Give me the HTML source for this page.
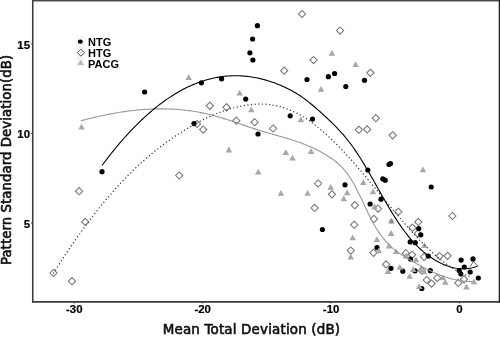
<!DOCTYPE html>
<html><head><meta charset="utf-8"><style>
html,body{margin:0;padding:0;background:#fff;width:500px;height:337px;overflow:hidden}
svg{display:block}
.tk{font-family:"Liberation Sans",Arial,sans-serif;font-weight:bold;font-size:11.4px;fill:#000;stroke:#000;stroke-width:0.2px}
.ti{font-family:"DejaVu Sans",sans-serif;fill:#111;stroke:#111;stroke-width:0.6px}
.lg{font-family:"Liberation Sans",Arial,sans-serif;font-weight:bold;font-size:11px;fill:#000}
</style></head><body>
<svg width="500" height="337" viewBox="0 0 500 337">
<rect width="500" height="337" fill="#fff"/>
<path d="M470.2,266.6L473.4,261.5L478.2,266.4" fill="#fff" stroke="#666" stroke-width="1"/>
<g fill="#fff" stroke="#747474" stroke-width="1.05"><path d="M53.5,269.4L57.1,273.0L53.5,276.6L49.9,273.0Z"/><path d="M72.0,277.6L75.6,281.2L72.0,284.8L68.4,281.2Z"/><path d="M85.3,218.3L88.9,221.9L85.3,225.5L81.7,221.9Z"/><path d="M79.1,187.6L82.7,191.2L79.1,194.8L75.5,191.2Z"/><path d="M179.2,171.9L182.8,175.5L179.2,179.1L175.6,175.5Z"/><path d="M209.8,102.2L213.4,105.8L209.8,109.4L206.2,105.8Z"/><path d="M226.5,103.7L230.1,107.3L226.5,110.9L222.9,107.3Z"/><path d="M197.0,120.4L200.6,124.0L197.0,127.6L193.4,124.0Z"/><path d="M203.2,126.0L206.8,129.6L203.2,133.2L199.6,129.6Z"/><path d="M302.0,10.4L305.6,14.0L302.0,17.6L298.4,14.0Z"/><path d="M313.6,56.5L317.2,60.1L313.6,63.7L310.0,60.1Z"/><path d="M284.2,67.1L287.8,70.7L284.2,74.3L280.6,70.7Z"/><path d="M236.3,117.1L239.9,120.7L236.3,124.3L232.7,120.7Z"/><path d="M254.6,118.6L258.2,122.2L254.6,125.8L251.0,122.2Z"/><path d="M273.1,124.9L276.7,128.5L273.1,132.1L269.5,128.5Z"/><path d="M340.1,27.0L343.7,30.6L340.1,34.2L336.5,30.6Z"/><path d="M370.4,69.2L374.0,72.8L370.4,76.4L366.8,72.8Z"/><path d="M375.8,114.6L379.4,118.2L375.8,121.8L372.2,118.2Z"/><path d="M358.9,126.2L362.5,129.8L358.9,133.4L355.3,129.8Z"/><path d="M367.2,125.8L370.8,129.4L367.2,133.0L363.6,129.4Z"/><path d="M392.7,131.7L396.3,135.3L392.7,138.9L389.1,135.3Z"/><path d="M318.1,179.9L321.7,183.5L318.1,187.1L314.5,183.5Z"/><path d="M331.9,190.7L335.5,194.3L331.9,197.9L328.3,194.3Z"/><path d="M354.8,201.6L358.4,205.2L354.8,208.8L351.2,205.2Z"/><path d="M314.7,204.3L318.3,207.9L314.7,211.5L311.1,207.9Z"/><path d="M354.2,221.1L357.8,224.7L354.2,228.3L350.6,224.7Z"/><path d="M350.8,247.0L354.4,250.6L350.8,254.2L347.2,250.6Z"/><path d="M378.0,205.0L381.6,208.6L378.0,212.2L374.4,208.6Z"/><path d="M398.3,208.2L401.9,211.8L398.3,215.4L394.7,211.8Z"/><path d="M374.0,215.3L377.6,218.9L374.0,222.5L370.4,218.9Z"/><path d="M452.4,212.4L456.0,216.0L452.4,219.6L448.8,216.0Z"/><path d="M418.3,218.3L421.9,221.9L418.3,225.5L414.7,221.9Z"/><path d="M412.5,224.1L416.1,227.7L412.5,231.3L408.9,227.7Z"/><path d="M417.8,230.0L421.4,233.6L417.8,237.2L414.2,233.6Z"/><path d="M373.5,249.2L377.1,252.8L373.5,256.4L369.9,252.8Z"/><path d="M405.8,249.6L409.4,253.2L405.8,256.8L402.2,253.2Z"/><path d="M412.1,251.2L415.7,254.8L412.1,258.4L408.5,254.8Z"/><path d="M424.0,253.3L427.6,256.9L424.0,260.5L420.4,256.9Z"/><path d="M439.6,252.5L443.2,256.1L439.6,259.7L436.0,256.1Z"/><path d="M447.6,252.2L451.2,255.8L447.6,259.4L444.0,255.8Z"/><path d="M386.1,260.8L389.7,264.4L386.1,268.0L382.5,264.4Z"/><path d="M421.8,267.1L425.4,270.7L421.8,274.3L418.2,270.7Z"/><path d="M426.7,276.4L430.3,280.0L426.7,283.6L423.1,280.0Z"/><path d="M431.6,280.0L435.2,283.6L431.6,287.2L428.0,283.6Z"/><path d="M437.2,274.4L440.8,278.0L437.2,281.6L433.6,278.0Z"/><path d="M464.0,275.7L467.6,279.3L464.0,282.9L460.4,279.3Z"/><path d="M458.3,279.3L461.9,282.9L458.3,286.5L454.7,282.9Z"/></g>
<g fill="#000"><circle cx="102.0" cy="171.7" r="2.6"/><circle cx="144.6" cy="92.0" r="2.6"/><circle cx="201.4" cy="82.8" r="2.6"/><circle cx="221.6" cy="78.8" r="2.6"/><circle cx="194.0" cy="123.6" r="2.6"/><circle cx="257.4" cy="25.7" r="2.6"/><circle cx="252.6" cy="39.0" r="2.6"/><circle cx="249.9" cy="52.8" r="2.6"/><circle cx="252.9" cy="60.0" r="2.6"/><circle cx="307.0" cy="79.5" r="2.6"/><circle cx="328.4" cy="76.7" r="2.6"/><circle cx="334.6" cy="73.5" r="2.6"/><circle cx="345.8" cy="86.5" r="2.6"/><circle cx="364.5" cy="80.3" r="2.6"/><circle cx="245.7" cy="99.1" r="2.6"/><circle cx="290.2" cy="115.8" r="2.6"/><circle cx="312.5" cy="119.1" r="2.6"/><circle cx="258.0" cy="134.0" r="2.6"/><circle cx="322.4" cy="229.5" r="2.6"/><circle cx="389.0" cy="164.5" r="2.6"/><circle cx="390.5" cy="163.5" r="2.6"/><circle cx="367.8" cy="170.0" r="2.6"/><circle cx="382.8" cy="178.8" r="2.6"/><circle cx="385.2" cy="180.2" r="2.6"/><circle cx="345.0" cy="184.8" r="2.6"/><circle cx="381.0" cy="199.2" r="2.6"/><circle cx="370.1" cy="204.0" r="2.6"/><circle cx="431.2" cy="187.0" r="2.6"/><circle cx="418.7" cy="228.5" r="2.6"/><circle cx="420.8" cy="234.8" r="2.6"/><circle cx="410.2" cy="241.9" r="2.6"/><circle cx="415.3" cy="242.7" r="2.6"/><circle cx="428.3" cy="256.1" r="2.6"/><circle cx="377.0" cy="247.6" r="2.6"/><circle cx="415.0" cy="270.8" r="2.6"/><circle cx="410.5" cy="259.0" r="2.6"/><circle cx="391.0" cy="268.3" r="2.6"/><circle cx="402.8" cy="271.2" r="2.6"/><circle cx="430.3" cy="270.7" r="2.6"/><circle cx="421.8" cy="288.5" r="2.6"/><circle cx="461.1" cy="260.1" r="2.6"/><circle cx="473.0" cy="258.9" r="2.6"/><circle cx="464.3" cy="267.0" r="2.6"/><circle cx="459.2" cy="270.6" r="2.6"/><circle cx="460.8" cy="273.8" r="2.6"/><circle cx="470.2" cy="272.0" r="2.6"/><circle cx="478.3" cy="278.0" r="2.6"/></g>
<g fill="#a8a8a8" stroke="none"><path d="M81.5,123.7L84.8,129.5L78.2,129.5Z"/><path d="M188.7,74.1L192.0,79.9L185.4,79.9Z"/><path d="M228.9,146.6L232.2,152.4L225.6,152.4Z"/><path d="M239.7,89.7L243.0,95.5L236.4,95.5Z"/><path d="M251.3,106.4L254.6,112.2L248.0,112.2Z"/><path d="M300.9,116.5L304.2,122.3L297.6,122.3Z"/><path d="M321.0,86.0L324.3,91.8L317.7,91.8Z"/><path d="M331.9,50.0L335.2,55.8L328.6,55.8Z"/><path d="M355.6,61.2L358.9,67.0L352.3,67.0Z"/><path d="M285.8,149.2L289.1,155.0L282.5,155.0Z"/><path d="M292.5,154.7L295.8,160.5L289.2,160.5Z"/><path d="M311.0,148.1L314.3,153.9L307.7,153.9Z"/><path d="M258.2,168.8L261.5,174.6L254.9,174.6Z"/><path d="M280.9,189.9L284.2,195.7L277.6,195.7Z"/><path d="M307.6,189.9L310.9,195.7L304.3,195.7Z"/><path d="M330.7,184.0L334.0,189.8L327.4,189.8Z"/><path d="M347.2,189.4L350.5,195.2L343.9,195.2Z"/><path d="M343.8,195.4L347.1,201.2L340.5,201.2Z"/><path d="M363.3,179.3L366.6,185.1L360.0,185.1Z"/><path d="M373.0,188.4L376.3,194.2L369.7,194.2Z"/><path d="M374.5,203.4L377.8,209.2L371.2,209.2Z"/><path d="M423.0,166.5L426.3,172.3L419.7,172.3Z"/><path d="M391.3,217.7L394.6,223.5L388.0,223.5Z"/><path d="M391.1,230.1L394.4,235.9L387.8,235.9Z"/><path d="M376.9,236.2L380.2,242.0L373.6,242.0Z"/><path d="M389.0,242.7L392.3,248.5L385.7,248.5Z"/><path d="M352.7,234.5L356.0,240.3L349.4,240.3Z"/><path d="M350.7,253.7L354.0,259.5L347.4,259.5Z"/><path d="M378.8,247.4L382.1,253.2L375.5,253.2Z"/><path d="M396.1,248.2L399.4,254.0L392.8,254.0Z"/><path d="M406.1,252.6L409.4,258.4L402.8,258.4Z"/><path d="M416.0,256.5L419.3,262.3L412.7,262.3Z"/><path d="M399.8,263.9L403.1,269.7L396.5,269.7Z"/><path d="M387.9,268.3L391.2,274.1L384.6,274.1Z"/><path d="M409.7,273.0L413.0,278.8L406.4,278.8Z"/><path d="M413.3,266.2L416.6,272.0L410.0,272.0Z"/><path d="M420.5,266.3L423.8,272.1L417.2,272.1Z"/><path d="M424.0,268.5L427.3,274.3L420.7,274.3Z"/><path d="M424.5,242.3L427.8,248.1L421.2,248.1Z"/><path d="M419.2,283.2L422.5,289.0L415.9,289.0Z"/><path d="M442.8,274.5L446.1,280.3L439.5,280.3Z"/><path d="M445.3,278.9L448.6,284.7L442.0,284.7Z"/><path d="M466.5,283.6L469.8,289.4L463.2,289.4Z"/><path d="M473.9,278.5L477.2,284.3L470.6,284.3Z"/></g>
<circle cx="391.4" cy="221.4" r="2.1" fill="#8c8c8c"/>
<path d="M81.00,120.75 L82.50,120.35 L84.00,119.96 L85.49,119.57 L86.99,119.19 L88.49,118.81 L89.99,118.44 L91.49,118.07 L92.98,117.71 L94.48,117.36 L95.98,117.01 L97.48,116.67 L98.98,116.33 L100.48,116.00 L101.97,115.68 L103.47,115.36 L104.97,115.05 L106.47,114.74 L107.97,114.44 L109.46,114.15 L110.96,113.87 L112.46,113.59 L113.96,113.32 L115.46,113.06 L116.95,112.80 L118.45,112.55 L119.95,112.31 L121.45,112.07 L122.95,111.84 L124.44,111.63 L125.94,111.41 L127.44,111.21 L128.94,111.01 L130.44,110.82 L131.93,110.64 L133.43,110.47 L134.93,110.31 L136.43,110.15 L137.93,110.00 L139.43,109.87 L140.92,109.74 L142.42,109.61 L143.92,109.50 L145.42,109.40 L146.92,109.30 L148.41,109.22 L149.91,109.14 L151.41,109.07 L152.91,109.01 L154.41,108.97 L155.90,108.93 L157.40,108.90 L158.90,108.88 L160.40,108.87 L161.90,108.87 L163.39,108.88 L164.89,108.90 L166.39,108.92 L167.89,108.96 L169.39,109.02 L170.89,109.08 L172.38,109.15 L173.88,109.23 L175.38,109.32 L176.88,109.42 L178.38,109.54 L179.87,109.66 L181.37,109.80 L182.87,109.95 L184.37,110.10 L185.87,110.27 L187.36,110.45 L188.86,110.65 L190.36,110.85 L191.86,111.07 L193.36,111.29 L194.85,111.53 L196.35,111.79 L197.85,112.05 L199.35,112.32 L200.85,112.61 L202.34,112.91 L203.84,113.22 L205.34,113.55 L206.84,113.89 L208.34,114.24 L209.84,114.60 L211.33,114.97 L212.83,115.36 L214.33,115.76 L215.83,116.18 L217.33,116.60 L218.82,117.03 L220.32,117.48 L221.82,117.93 L223.32,118.39 L224.82,118.86 L226.31,119.34 L227.81,119.82 L229.31,120.31 L230.81,120.80 L232.31,121.30 L233.80,121.80 L235.30,122.31 L236.80,122.82 L238.30,123.33 L239.80,123.84 L241.30,124.35 L242.79,124.86 L244.29,125.38 L245.79,125.89 L247.29,126.39 L248.79,126.90 L250.28,127.40 L251.78,127.90 L253.28,128.39 L254.78,128.88 L256.28,129.37 L257.77,129.84 L259.27,130.31 L260.77,130.77 L262.27,131.23 L263.77,131.67 L265.26,132.11 L266.76,132.55 L268.26,132.98 L269.76,133.41 L271.26,133.83 L272.75,134.26 L274.25,134.68 L275.75,135.10 L277.25,135.52 L278.75,135.95 L280.25,136.37 L281.74,136.80 L283.24,137.24 L284.74,137.68 L286.24,138.12 L287.74,138.57 L289.23,139.03 L290.73,139.49 L292.23,139.97 L293.73,140.45 L295.23,140.95 L296.72,141.46 L298.22,141.98 L299.72,142.51 L301.22,143.06 L302.72,143.62 L304.21,144.19 L305.71,144.79 L307.21,145.40 L308.71,146.03 L310.21,146.68 L311.70,147.35 L313.20,148.03 L314.70,148.74 L316.20,149.48 L317.70,150.23 L319.20,151.01 L320.69,151.82 L322.19,152.65 L323.69,153.51 L325.19,154.39 L326.69,155.30 L328.18,156.24 L329.68,157.22 L331.18,158.22 L332.68,159.27 L334.18,160.37 L335.67,161.53 L337.17,162.77 L338.67,164.08 L340.17,165.48 L341.67,166.98 L343.16,168.58 L344.66,170.30 L346.16,172.15 L347.66,174.13 L349.16,176.25 L350.66,178.53 L352.15,180.96 L353.65,183.56 L355.15,186.31 L356.65,189.18 L358.15,192.16 L359.64,195.23 L361.14,198.36 L362.64,201.54 L364.14,204.73 L365.64,207.92 L367.13,211.08 L368.63,214.18 L370.13,217.20 L371.63,220.12 L373.13,222.90 L374.62,225.53 L376.12,228.04 L377.62,230.41 L379.12,232.65 L380.62,234.77 L382.11,236.78 L383.61,238.68 L385.11,240.47 L386.61,242.16 L388.11,243.76 L389.61,245.27 L391.10,246.70 L392.60,248.06 L394.10,249.34 L395.60,250.56 L397.10,251.71 L398.59,252.81 L400.09,253.86 L401.59,254.87 L403.09,255.84 L404.59,256.78 L406.08,257.69 L407.58,258.57 L409.08,259.45 L410.58,260.31 L412.08,261.16 L413.57,262.01 L415.07,262.84 L416.57,263.67 L418.07,264.49 L419.57,265.30 L421.07,266.10 L422.56,266.89 L424.06,267.67 L425.56,268.43 L427.06,269.18 L428.56,269.91 L430.05,270.63 L431.55,271.33 L433.05,272.02 L434.55,272.68 L436.05,273.34 L437.54,273.97 L439.04,274.58 L440.54,275.17 L442.04,275.74 L443.54,276.29 L445.03,276.81 L446.53,277.32 L448.03,277.80 L449.53,278.25 L451.03,278.68 L452.52,279.08 L454.02,279.46 L455.52,279.80 L457.02,280.12 L458.52,280.41 L460.02,280.67 L461.51,280.90 L463.01,281.10 L464.51,281.27 L466.01,281.40 L467.51,281.50 L469.00,281.57 L470.50,281.60 L472.00,281.59" fill="none" stroke="#999" stroke-width="1.1"/>
<path d="M53.60,273.02 L55.10,270.63 L56.60,268.25 L58.10,265.90 L59.60,263.56 L61.10,261.23 L62.60,258.93 L64.09,256.64 L65.59,254.36 L67.09,252.11 L68.59,249.87 L70.09,247.65 L71.59,245.44 L73.09,243.25 L74.59,241.08 L76.09,238.93 L77.59,236.80 L79.09,234.68 L80.59,232.58 L82.09,230.50 L83.59,228.43 L85.08,226.38 L86.58,224.35 L88.08,222.34 L89.58,220.35 L91.08,218.37 L92.58,216.41 L94.08,214.47 L95.58,212.55 L97.08,210.64 L98.58,208.76 L100.08,206.89 L101.58,205.04 L103.08,203.20 L104.58,201.39 L106.07,199.59 L107.57,197.81 L109.07,196.06 L110.57,194.31 L112.07,192.59 L113.57,190.89 L115.07,189.20 L116.57,187.53 L118.07,185.88 L119.57,184.25 L121.07,182.64 L122.57,181.05 L124.07,179.48 L125.57,177.92 L127.06,176.38 L128.56,174.87 L130.06,173.37 L131.56,171.89 L133.06,170.43 L134.56,168.98 L136.06,167.56 L137.56,166.15 L139.06,164.76 L140.56,163.39 L142.06,162.04 L143.56,160.70 L145.06,159.38 L146.56,158.08 L148.05,156.79 L149.55,155.53 L151.05,154.27 L152.55,153.04 L154.05,151.81 L155.55,150.61 L157.05,149.42 L158.55,148.25 L160.05,147.09 L161.55,145.94 L163.05,144.81 L164.55,143.70 L166.05,142.60 L167.55,141.52 L169.04,140.44 L170.54,139.39 L172.04,138.34 L173.54,137.31 L175.04,136.30 L176.54,135.30 L178.04,134.31 L179.54,133.33 L181.04,132.36 L182.54,131.41 L184.04,130.47 L185.54,129.55 L187.04,128.64 L188.54,127.74 L190.03,126.85 L191.53,125.98 L193.03,125.12 L194.53,124.28 L196.03,123.45 L197.53,122.64 L199.03,121.84 L200.53,121.05 L202.03,120.28 L203.53,119.53 L205.03,118.79 L206.53,118.06 L208.03,117.36 L209.53,116.67 L211.02,115.99 L212.52,115.33 L214.02,114.69 L215.52,114.06 L217.02,113.45 L218.52,112.86 L220.02,112.29 L221.52,111.73 L223.02,111.19 L224.52,110.67 L226.02,110.16 L227.52,109.68 L229.02,109.21 L230.52,108.76 L232.01,108.33 L233.51,107.92 L235.01,107.52 L236.51,107.15 L238.01,106.80 L239.51,106.46 L241.01,106.15 L242.51,105.85 L244.01,105.58 L245.51,105.32 L247.01,105.09 L248.51,104.88 L250.01,104.70 L251.51,104.53 L253.00,104.40 L254.50,104.28 L256.00,104.19 L257.50,104.13 L259.00,104.09 L260.50,104.08 L262.00,104.10 L263.50,104.14 L265.00,104.21 L266.50,104.32 L268.00,104.45 L269.50,104.61 L271.00,104.80 L272.49,105.02 L273.99,105.28 L275.49,105.57 L276.99,105.88 L278.49,106.24 L279.99,106.62 L281.49,107.03 L282.99,107.48 L284.49,107.96 L285.99,108.48 L287.49,109.02 L288.99,109.60 L290.49,110.22 L291.99,110.86 L293.48,111.54 L294.98,112.26 L296.48,113.00 L297.98,113.78 L299.48,114.60 L300.98,115.45 L302.48,116.33 L303.98,117.25 L305.48,118.20 L306.98,119.18 L308.48,120.19 L309.98,121.23 L311.48,122.30 L312.98,123.41 L314.47,124.54 L315.97,125.70 L317.47,126.89 L318.97,128.11 L320.47,129.35 L321.97,130.62 L323.47,131.92 L324.97,133.24 L326.47,134.59 L327.97,135.96 L329.47,137.35 L330.97,138.77 L332.47,140.21 L333.97,141.67 L335.46,143.16 L336.96,144.66 L338.46,146.19 L339.96,147.73 L341.46,149.30 L342.96,150.88 L344.46,152.49 L345.96,154.11 L347.46,155.74 L348.96,157.40 L350.46,159.07 L351.96,160.75 L353.46,162.45 L354.96,164.16 L356.45,165.89 L357.95,167.62 L359.45,169.37 L360.95,171.13 L362.45,172.90 L363.95,174.68 L365.45,176.46 L366.95,178.26 L368.45,180.06 L369.95,181.86 L371.45,183.67 L372.95,185.49 L374.45,187.31 L375.95,189.13 L377.44,190.95 L378.94,192.78 L380.44,194.61 L381.94,196.43 L383.44,198.26 L384.94,200.08 L386.44,201.90 L387.94,203.72 L389.44,205.53 L390.94,207.34 L392.44,209.15 L393.94,210.95 L395.44,212.74 L396.94,214.52 L398.43,216.29 L399.93,218.06 L401.43,219.81 L402.93,221.56 L404.43,223.29 L405.93,225.01 L407.43,226.72 L408.93,228.41 L410.43,230.09 L411.93,231.76 L413.43,233.40 L414.93,235.03 L416.43,236.65 L417.93,238.24 L419.42,239.82 L420.92,241.37 L422.42,242.91 L423.92,244.42 L425.42,245.91 L426.92,247.38 L428.42,248.83 L429.92,250.25 L431.42,251.64 L432.92,253.01 L434.42,254.35 L435.92,255.67 L437.42,256.96 L438.92,258.21 L440.41,259.44 L441.91,260.64 L443.41,261.81 L444.91,262.94 L446.41,264.04 L447.91,265.11 L449.41,266.14 L450.91,267.14 L452.41,268.10 L453.91,269.03 L455.41,269.92 L456.91,270.77 L458.41,271.58 L459.91,272.35 L461.40,273.08 L462.90,273.77 L464.40,274.42 L465.90,275.02 L467.40,275.58 L468.90,276.10 L470.40,276.57" fill="none" stroke="#3a3a3a" stroke-width="1.45" stroke-linecap="round" stroke-dasharray="0 3.62"/>
<path d="M102.00,165.52 L103.50,163.51 L104.99,161.51 L106.49,159.55 L107.98,157.60 L109.48,155.68 L110.97,153.78 L112.47,151.91 L113.96,150.06 L115.46,148.23 L116.96,146.42 L118.45,144.64 L119.95,142.88 L121.44,141.14 L122.94,139.43 L124.43,137.74 L125.93,136.07 L127.43,134.42 L128.92,132.80 L130.42,131.20 L131.91,129.62 L133.41,128.07 L134.90,126.54 L136.40,125.03 L137.89,123.55 L139.39,122.08 L140.89,120.64 L142.38,119.23 L143.88,117.83 L145.37,116.46 L146.87,115.12 L148.36,113.79 L149.86,112.49 L151.36,111.21 L152.85,109.95 L154.35,108.72 L155.84,107.51 L157.34,106.32 L158.83,105.15 L160.33,104.01 L161.82,102.89 L163.32,101.79 L164.82,100.72 L166.31,99.67 L167.81,98.64 L169.30,97.63 L170.80,96.65 L172.29,95.69 L173.79,94.75 L175.29,93.84 L176.78,92.94 L178.28,92.07 L179.77,91.23 L181.27,90.40 L182.76,89.60 L184.26,88.82 L185.75,88.06 L187.25,87.33 L188.75,86.62 L190.24,85.93 L191.74,85.26 L193.23,84.62 L194.73,84.00 L196.22,83.40 L197.72,82.82 L199.22,82.27 L200.71,81.74 L202.21,81.23 L203.70,80.75 L205.20,80.28 L206.69,79.84 L208.19,79.42 L209.68,79.03 L211.18,78.66 L212.68,78.31 L214.17,77.98 L215.67,77.67 L217.16,77.39 L218.66,77.13 L220.15,76.89 L221.65,76.68 L223.15,76.48 L224.64,76.31 L226.14,76.16 L227.63,76.04 L229.13,75.93 L230.62,75.85 L232.12,75.79 L233.61,75.75 L235.11,75.74 L236.61,75.74 L238.10,75.77 L239.60,75.82 L241.09,75.89 L242.59,75.98 L244.08,76.09 L245.58,76.23 L247.07,76.39 L248.57,76.56 L250.07,76.76 L251.56,76.98 L253.06,77.22 L254.55,77.48 L256.05,77.77 L257.54,78.07 L259.04,78.40 L260.54,78.74 L262.03,79.11 L263.53,79.49 L265.02,79.90 L266.52,80.33 L268.01,80.78 L269.51,81.25 L271.00,81.74 L272.50,82.24 L274.00,82.77 L275.49,83.32 L276.99,83.89 L278.48,84.48 L279.98,85.09 L281.47,85.73 L282.97,86.38 L284.47,87.06 L285.96,87.76 L287.46,88.49 L288.95,89.24 L290.45,90.02 L291.94,90.83 L293.44,91.67 L294.93,92.54 L296.43,93.44 L297.93,94.37 L299.42,95.33 L300.92,96.33 L302.41,97.36 L303.91,98.42 L305.40,99.52 L306.90,100.65 L308.40,101.82 L309.89,103.01 L311.39,104.23 L312.88,105.47 L314.38,106.74 L315.87,108.03 L317.37,109.34 L318.86,110.67 L320.36,112.01 L321.86,113.37 L323.35,114.74 L324.85,116.12 L326.34,117.51 L327.84,118.91 L329.33,120.32 L330.83,121.75 L332.33,123.19 L333.82,124.67 L335.32,126.16 L336.81,127.70 L338.31,129.26 L339.80,130.86 L341.30,132.51 L342.79,134.20 L344.29,135.94 L345.79,137.73 L347.28,139.58 L348.78,141.48 L350.27,143.44 L351.77,145.46 L353.26,147.54 L354.76,149.67 L356.25,151.87 L357.75,154.12 L359.25,156.43 L360.74,158.79 L362.24,161.20 L363.73,163.65 L365.23,166.15 L366.72,168.68 L368.22,171.25 L369.72,173.84 L371.21,176.45 L372.71,179.09 L374.20,181.73 L375.70,184.39 L377.19,187.05 L378.69,189.71 L380.18,192.37 L381.68,195.02 L383.18,197.65 L384.67,200.26 L386.17,202.84 L387.66,205.39 L389.16,207.91 L390.65,210.39 L392.15,212.84 L393.65,215.24 L395.14,217.60 L396.64,219.92 L398.13,222.19 L399.63,224.41 L401.12,226.58 L402.62,228.70 L404.11,230.76 L405.61,232.77 L407.11,234.71 L408.60,236.59 L410.10,238.41 L411.59,240.15 L413.09,241.83 L414.58,243.45 L416.08,244.99 L417.58,246.48 L419.07,247.91 L420.57,249.28 L422.06,250.59 L423.56,251.86 L425.05,253.07 L426.55,254.24 L428.04,255.36 L429.54,256.45 L431.04,257.49 L432.53,258.49 L434.03,259.44 L435.52,260.35 L437.02,261.22 L438.51,262.04 L440.01,262.82 L441.51,263.55 L443.00,264.24 L444.50,264.87 L445.99,265.47 L447.49,266.01 L448.98,266.51 L450.48,266.96 L451.97,267.36 L453.47,267.71 L454.97,268.01 L456.46,268.26 L457.96,268.46 L459.45,268.61 L460.95,268.71 L462.44,268.76 L463.94,268.75 L465.44,268.69 L466.93,268.58 L468.43,268.41 L469.92,268.19 L471.42,267.92 L472.91,267.59 L474.41,267.20 L475.90,266.76 L477.40,266.26" fill="none" stroke="#000" stroke-width="1.1"/>
<g fill="none"><path d="M32,0.8H500" stroke="#4a4a4a" stroke-width="1.6"/><path d="M32.75,0V302.8" stroke="#3a3a3a" stroke-width="1.55"/><path d="M32,301.95H500" stroke="#3a3a3a" stroke-width="1.75"/><path d="M499.35,0V302.8" stroke="#222" stroke-width="1.3"/></g>
<g stroke="#444" stroke-width="1"><line x1="74.3" y1="301.5" x2="74.3" y2="303.5"/><line x1="202.7" y1="301.5" x2="202.7" y2="303.5"/><line x1="331.1" y1="301.5" x2="331.1" y2="303.5"/><line x1="459.5" y1="301.5" x2="459.5" y2="303.5"/><line x1="31" y1="223.0" x2="32.5" y2="223.0"/><line x1="31" y1="133.5" x2="32.5" y2="133.5"/><line x1="31" y1="44.0" x2="32.5" y2="44.0"/></g>
<g class="tk"><text x="74.3" y="313.3" text-anchor="middle">-30</text><text x="202.7" y="313.3" text-anchor="middle">-20</text><text x="331.1" y="313.3" text-anchor="middle">-10</text><text x="459.5" y="313.3" text-anchor="middle">0</text><text x="30" y="227.5" text-anchor="end">5</text><text x="30" y="138.0" text-anchor="end">10</text><text x="30" y="48.5" text-anchor="end">15</text></g>
<text class="ti" x="162.7" y="333.6" style="font-size:13.45px;letter-spacing:0.17px">Mean Total Deviation (dB)</text>
<text class="ti" transform="translate(11,265.1) rotate(-90)" style="font-size:13.25px;letter-spacing:0.09px">Pattern Standard Deviation(dB)</text>
<g class="lg">
<rect x="76.3" y="36.3" width="8.2" height="30.4" fill="#f4f4f4"/>
<ellipse cx="80.3" cy="41.7" rx="2.5" ry="2.1" fill="#000"/>
<text x="88" y="45.8">NTG</text>
<path d="M80.9,49.2L84.4,52.7L80.9,56.2L77.4,52.7Z" fill="#fff" stroke="#555" stroke-width="1"/><circle cx="80.9" cy="52.7" r="0.6" fill="#999"/>
<text x="88" y="56.9">HTG</text>
<path d="M80.6,59.6L83.7,65L77.5,65Z" fill="#b8b8b8"/>
<text x="88" y="68">PACG</text>
</g>
</svg>
</body></html>
